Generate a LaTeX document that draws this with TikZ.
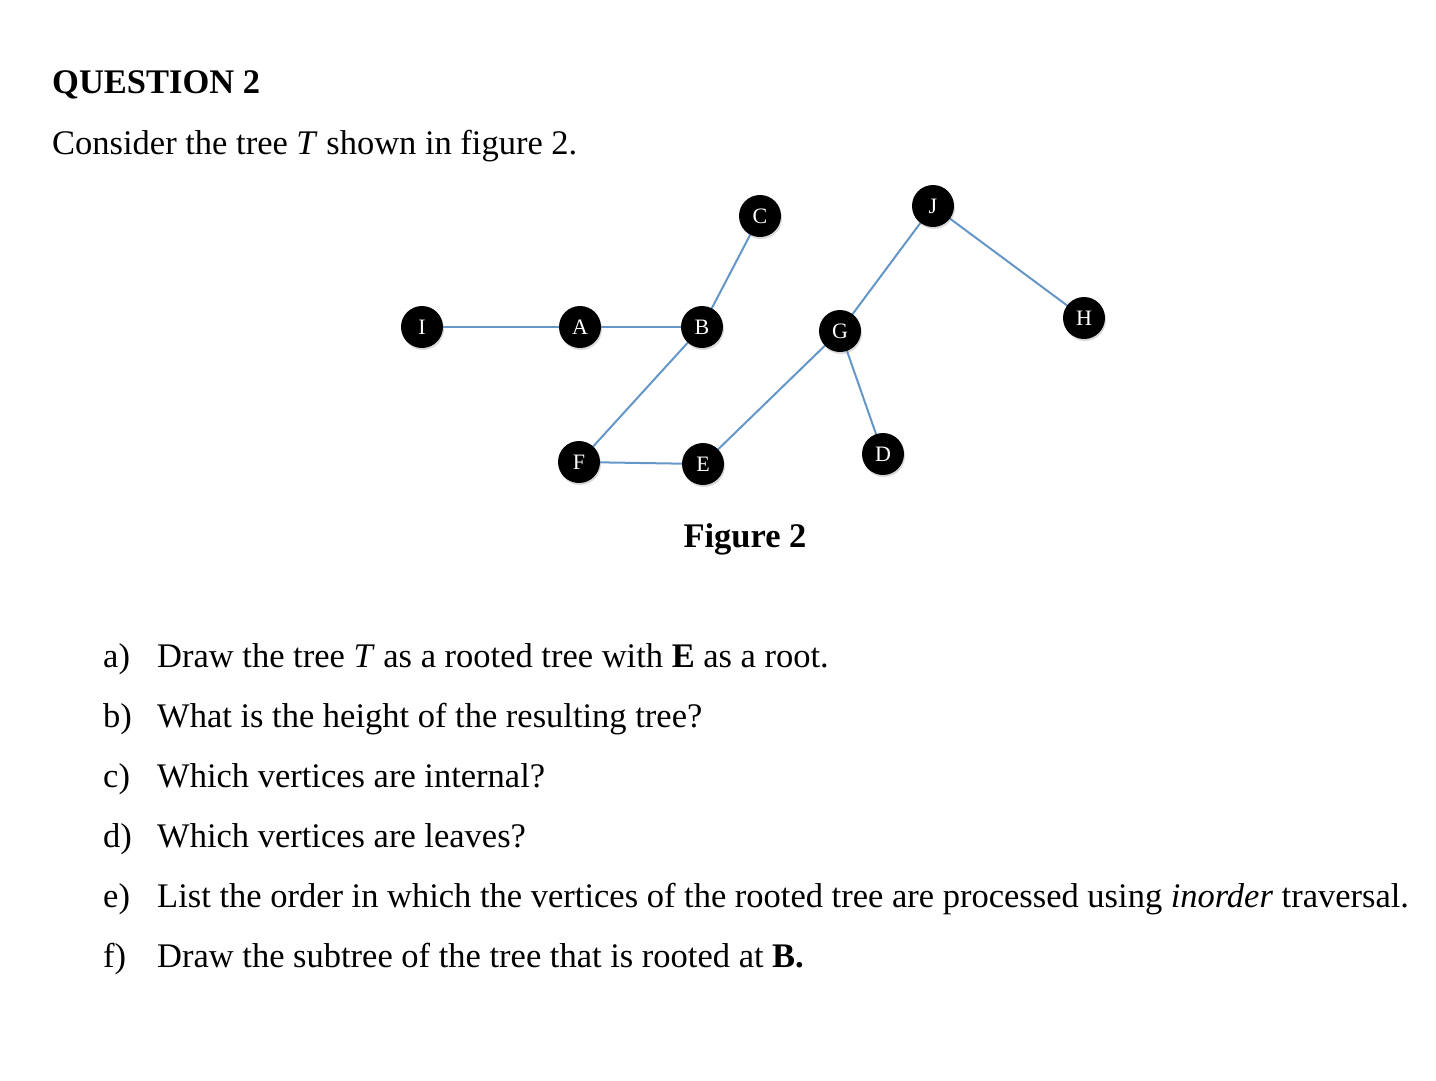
\documentclass[tikz,border=0pt]{standalone}
\usepackage{fontspec}
\setmainfont{Liberation Serif}
\usetikzlibrary{shadows}
\begin{document}
\begin{tikzpicture}[x=1pt,y=-1pt,
  v/.style={circle,fill=black,minimum size=42pt,inner sep=0pt,text=white,font=\fontsize{22}{22}\selectfont,drop shadow={shadow xshift=1pt,shadow yshift=-2pt,opacity=0.3}},
  ed/.style={draw={rgb,255:red,100;green,150;blue,200},line width=2pt},
  txt/.style={anchor=base west,inner sep=0pt,font=\fontsize{34.5}{34.5}\selectfont}]
\useasboundingbox (0,0) rectangle (1436,1080);
\node[txt,font=\fontsize{34.5}{34.5}\selectfont\bfseries] (q) at (52,93) {QUESTION 2};
\node[txt] (c) at (52,154) {Consider the tree \textit{T} shown in figure 2.};
\node (I) at (422,327) {}; \node (A) at (580,327) {}; \node (B) at (702,327) {};
\node (C) at (760,216) {}; \node (J) at (933,206) {}; \node (H) at (1084,318) {};
\node (G) at (840,331) {}; \node (D) at (883,454) {}; \node (F) at (579,462) {};
\node (E) at (703,464) {};
\foreach \a/\b in {I/A,A/B,B/C,B/F,F/E,E/G,G/J,J/H,G/D} \draw[ed] (\a.center)--(\b.center);
\foreach \n in {I,A,B,C,J,H,G,D,F,E} \node[v] (n\n) at (\n) {\n};
\node[anchor=base,inner sep=0pt,font=\fontsize{34.5}{34.5}\selectfont\bfseries] (fig) at (745,547) {Figure 2};
\foreach \l/\y/\t in {a)/667/{Draw the tree \textit{T} as a rooted tree with \textbf{E} as a root.},
 b)/727/{What is the height of the resulting tree?},
 c)/787/{Which vertices are internal?},
 d)/847/{Which vertices are leaves?},
 e)/907/{List the order in which the vertices of the rooted tree are processed using \textit{inorder} traversal.},
 f)/967/{Draw the subtree of the tree that is rooted at \textbf{B.}}}
 { \node[txt] (l\y) at (103,\y) {\l}; \node[txt] (t\y) at (157,\y) {\t}; }
\end{tikzpicture}
\end{document}
